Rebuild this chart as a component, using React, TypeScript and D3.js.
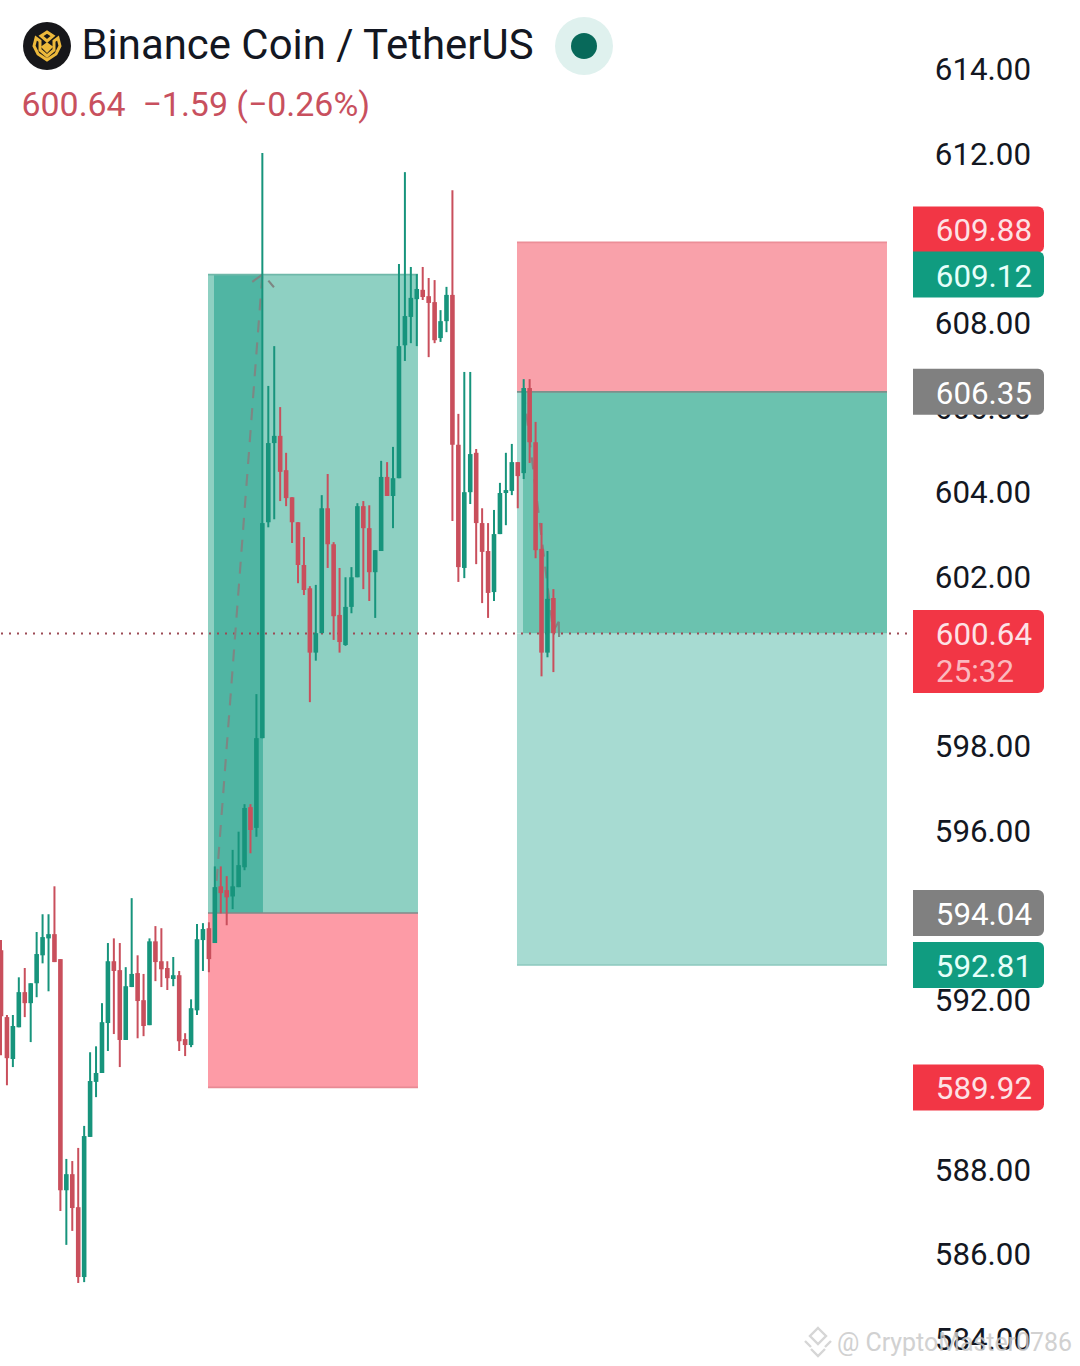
import React from "react";
import * as d3 from "d3";

const highs = [593.40,591.63,591.63,592.52,592.74,592.38,593.59,594.01,594.01,594.67,592.95,588.23,588.18,588.49,589.01,590.75,590.89,591.91,593.33,593.44,593.33,592.76,594.39,593.04,592.60,593.44,593.73,593.68,592.90,593.00,592.67,591.20,592.00,593.78,593.80,593.82,595.14,595.14,594.91,595.53,595.96,596.61,596.61,599.21,611.99,606.49,607.43,605.99,604.91,603.86,603.27,602.92,601.76,601.79,603.91,604.41,602.80,602.19,601.97,602.21,603.72,603.77,603.67,602.61,604.72,604.69,605.05,609.37,611.54,609.30,609.13,609.30,609.04,608.99,608.28,608.83,611.11,605.83,606.82,606.82,605.00,603.60,603.25,603.56,604.20,604.91,605.12,604.69,606.65,606.65,605.64,603.25,602.59,601.69];
const opens = [593.16,591.58,590.59,591.34,592.17,591.91,592.38,593.04,593.44,593.54,592.95,587.49,587.87,587.09,585.44,588.75,590.05,590.26,591.44,592.90,592.69,591.04,592.29,592.62,591.98,591.39,593.37,592.90,592.74,592.48,592.57,591.06,590.92,591.74,593.40,593.68,593.33,594.67,594.58,594.43,594.65,595.12,596.54,596.05,598.17,603.27,605.14,605.31,604.50,603.86,603.27,602.26,601.71,600.19,600.65,603.60,602.75,601.08,600.37,601.27,601.97,603.65,603.13,602.09,602.59,604.34,603.89,604.31,607.45,608.12,608.54,608.76,608.61,608.47,607.62,608.02,608.64,605.10,602.19,603.98,604.91,603.25,602.59,601.62,602.99,603.96,604.01,604.69,604.43,606.44,605.16,602.64,600.19,601.48];
const closes = [591.60,590.61,591.37,592.17,591.91,592.38,593.07,593.47,593.54,592.88,587.49,587.87,587.07,585.44,588.77,590.07,590.26,591.46,592.90,592.67,591.04,592.31,592.60,591.96,591.37,593.37,592.88,592.71,592.50,592.57,591.01,590.92,591.79,593.42,593.66,592.95,594.65,594.51,594.41,594.67,595.17,596.52,596.00,598.17,603.25,605.14,605.31,604.46,603.84,603.27,602.26,601.67,600.19,600.65,603.60,602.75,601.05,600.44,601.27,601.97,603.65,603.13,602.09,602.61,604.34,603.89,604.31,607.43,608.14,608.57,608.78,608.59,608.45,607.57,608.02,608.64,605.10,602.21,603.98,604.88,603.25,602.57,601.60,602.99,603.96,604.03,604.69,604.36,606.44,605.16,602.61,600.19,601.46,600.65];
const lows = [590.68,589.97,590.40,591.34,591.58,590.99,592.05,592.85,592.19,592.88,587.00,586.20,586.53,585.30,585.32,588.75,589.69,590.26,590.78,591.18,590.40,591.04,592.29,591.08,591.13,591.39,592.43,592.29,592.22,592.31,590.78,590.66,590.87,591.63,592.67,592.64,593.33,594.03,593.75,594.13,594.65,595.05,595.45,595.84,598.17,603.15,603.34,603.77,603.65,602.78,601.83,601.55,599.02,600.00,600.65,602.19,600.49,600.19,600.35,601.12,601.97,601.69,601.41,601.01,602.59,603.89,603.13,604.31,607.08,607.50,607.43,608.52,607.17,607.50,607.53,607.76,603.30,601.86,601.95,603.70,602.28,601.36,601.01,601.41,602.99,603.20,603.91,603.60,604.29,604.67,602.42,599.63,600.08,599.73];

const axisTicks = [614,612,610,608,606,604,602,600,598,596,594,592,590,588,586,584];
const tagPrices = [609.88,609.12,606.35,594.04,592.81,589.92];
const tagKinds = ["stop","target","entry","entry","target","stop"];
const tagShift = [-13,0,0,0,0,0];
const lastPrice = 600.64;
const countdown = "25:32";
const title = "Binance Coin / TetherUS";
const quote = "600.64  \u22121.59 (\u22120.26%)";
const watermark = "@ CryptoMaster0786";

const UP = "#17947c", DOWN = "#c94f5c", TAG_RED = "#f23645", TAG_GREEN = "#109c80", TAG_GREY = "#808080";
const font = "Roboto, sans-serif";

const x = d3.scaleLinear().domain([0, 93]).range([1, 553.4]);
const y = d3.scaleLinear().domain([614, 584]).range([68, 1338]);

const candles = d3.range(opens.length).map(i => ({ i, h: highs[i], o: opens[i], c: closes[i], l: lows[i] }));

function Box({ i0, i1, p0, p1, fill }: { i0: number; i1: number; p0: number; p1: number; fill: string }) {
  return <rect x={x(i0)} y={y(p0)} width={x(i1) - x(i0)} height={y(p1) - y(p0)} fill={fill} />;
}
function Rule({ i0, i1, p, stroke }: { i0: number; i1: number; p: number; stroke: string }) {
  return <line x1={x(i0)} x2={x(i1)} y1={y(p)} y2={y(p)} stroke={stroke} strokeWidth={1.6} />;
}
function Tag({ p, kind, shift }: { p: number; kind: string; shift: number }) {
  const c = kind === "stop" ? TAG_RED : kind === "target" ? TAG_GREEN : TAG_GREY;
  const top = y(p) - 23 + shift, h = 46;
  const d = `M913 ${top}H1038a6 6 0 0 1 6 6V${top + h - 6}a6 6 0 0 1 -6 6H913Z`;
  const ink = kind === "stop" ? "#fde2e5" : kind === "target" ? "#e6fffa" : "#ffffff";
  return (
    <g>
      <path d={d} fill={c} />
      <text x={1032} y={top + 35} textAnchor="end" fontSize={31.3} fontFamily={font} fill={ink}>{p.toFixed(2)}</text>
    </g>
  );
}

function Arrow({ i0, p0, i1, p1, tipA, tipB }: { i0: number; p0: number; i1: number; p1: number; tipA: [number, number]; tipB: [number, number] }) {
  const c = "#7e8683";
  return (
    <g stroke={c} fill="none" strokeWidth={2.1}>
      <line x1={x(i0)} y1={y(p0)} x2={x(i1)} y2={y(p1)} strokeDasharray="12 10" />
      <line x1={x(i1)} y1={y(p1)} x2={x(tipA[0])} y2={y(tipA[1])} />
      <line x1={x(i1) + 6} y1={y(p1) + 6} x2={x(tipB[0])} y2={y(tipB[1])} />
    </g>
  );
}

export default function App() {
  return (
    <svg width={1080} height={1366} viewBox="0 0 1080 1366" style={{ position: "fixed", left: 0, top: 0, display: "block", background: "#fff" }}>
      {/* long position */}
      <Box i0={34.85} i1={70.2} p0={609.12} p1={594.04} fill="#8ed0c2" />
      <Box i0={35.86} i1={44.1} p0={609.12} p1={594.04} fill="#50b5a3" />
      <Box i0={34.85} i1={70.2} p0={594.04} p1={589.92} fill="#fd9ba6" />
      <Rule i0={34.85} i1={70.2} p={609.12} stroke="#6fb8a9" />
      <Rule i0={34.85} i1={70.2} p={594.04} stroke="#808a88" />
      <Rule i0={34.85} i1={70.2} p={589.92} stroke="#e88a94" />

      {/* short position */}
      <Box i0={86.87} i1={149.16} p0={609.88} p1={606.35} fill="#f9a1aa" />
      <Box i0={86.87} i1={149.16} p0={606.35} p1={600.64} fill="#a7dbd2" />
      <Box i0={87.88} i1={149.16} p0={606.35} p1={600.64} fill="#6bc2af" />
      <Box i0={86.87} i1={149.16} p0={600.64} p1={592.81} fill="#a7dbd2" />
      <Rule i0={86.87} i1={149.16} p={609.88} stroke="#ec8e98" />
      <Rule i0={86.87} i1={149.16} p={606.35} stroke="#7d8f8b" />
      <Rule i0={86.87} i1={149.16} p={592.81} stroke="#8cc9be" />

      <line x1={x(0)} x2={908} y1={y(lastPrice)} y2={y(lastPrice)} stroke="#9c4a55" strokeWidth={2} strokeDasharray="2 6" />

      <Arrow i0={36.3} p0={594.8} i1={44} p1={609.12} tipA={[42.3, 608.95]} tipB={[45.95, 608.82]} />
      <Arrow i0={88} p0={606.35} i1={92.95} p1={600.7} tipA={[93.9, 600.92]} tipB={[93.9, 600.92]} />

      {candles.map(d => {
        const col = d.c >= d.o ? UP : DOWN;
        const top = y(Math.max(d.o, d.c));
        const bot = y(Math.min(d.o, d.c));
        return (
          <g key={d.i}>
            <line x1={x(d.i)} x2={x(d.i)} y1={y(d.h)} y2={y(d.l)} stroke={col} strokeWidth={2} />
            <rect x={x(d.i) - 2.3} y={top} width={4.6} height={Math.max(bot - top, 2)} fill={col} />
          </g>
        );
      })}

      {/* axis */}
      {axisTicks.map(t => (
        <text key={t} x={1031} y={y(t) + 12} textAnchor="end" fontSize={31.3} fontFamily={font} fill="#131722">{t.toFixed(2)}</text>
      ))}
      <text x={1072} y={1351} textAnchor="end" fontSize={24.9} fontFamily={font} fill="#c9c9c9" opacity={0.85}>{watermark}</text>
      <g transform="translate(818,1342)" fill="none" stroke="#d6d6d6" strokeWidth={2.4}>
        <path d="M0 -14L8 -6L0 2L-8 -6Z" />
        <path d="M-7 7L0 14L7 7M-13 -1L-7 5M13 -1L7 5" />
      </g>

      {tagPrices.map((p, i) => <Tag key={p} p={p} kind={tagKinds[i]} shift={tagShift[i]} />)}
      <path d="M913 610H1038a6 6 0 0 1 6 6V687a6 6 0 0 1 -6 6H913Z" fill={TAG_RED} />
      <text x={1032} y={645} textAnchor="end" fontSize={31.3} fontFamily={font} fill="#fde2e5">{lastPrice.toFixed(2)}</text>
      <text x={1014} y={682} textAnchor="end" fontSize={31.3} fontFamily={font} fill="#fbb9bf">{countdown}</text>

      {/* header */}
      <circle cx={47} cy={46} r={24} fill="#17171a" />
      <g fill="none" stroke="#edb93b" strokeWidth={3}>
        <path d="M47 32L53 36L47 41L41 36Z" />
        <path d="M36 38L40 41V50L47 56L54 50V41L58 38L60 46L56 54L47 60L38 54L34 46Z" />
        <path d="M43 47L47 44L51 47L47 51Z" fill="#edb93b" />
      </g>
      <text x={81.5} y={59} fontSize={41.9} fontFamily={font} fill="#131722">{title}</text>
      <text x={21.5} y={116} fontSize={33.9} fontFamily={font} fill="#c8505e" xmlSpace="preserve">{quote}</text>
      <circle cx={584} cy={46} r={29} fill="#dff1ee" />
      <circle cx={584} cy={46} r={13} fill="#08695a" />
    </svg>
  );
}
